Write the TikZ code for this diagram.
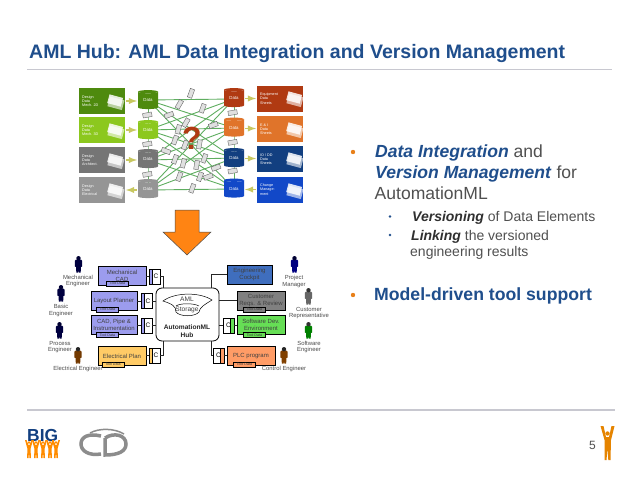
\documentclass[tikz,border=0pt]{standalone}
\usepackage{fontspec}
\setmainfont{Liberation Sans}
\usetikzlibrary{shapes.geometric,calc}
\definecolor{titleblue}{HTML}{1F4E8C}
\definecolor{rulegray}{HTML}{C8C8D0}
\definecolor{bodytxt}{HTML}{505050}
\definecolor{boldtxt}{HTML}{303030}
\definecolor{bullet}{HTML}{E8801A}
\definecolor{link}{HTML}{5FAE60}
\definecolor{lav}{HTML}{9C9CEE}
\definecolor{eplan}{HTML}{FFCB66}
\definecolor{plc}{HTML}{FF9C66}
\definecolor{cock}{HTML}{3F6EBE}
\definecolor{cust}{HTML}{808080}
\definecolor{sw}{HTML}{66DE55}
\definecolor{cgA}{HTML}{4E8A0E}
\definecolor{cgB}{HTML}{8CC81E}
\definecolor{cgC}{HTML}{757575}
\definecolor{cgD}{HTML}{959595}
\definecolor{crA}{HTML}{B03A12}
\definecolor{crB}{HTML}{E0742A}
\definecolor{crC}{HTML}{123F80}
\definecolor{crD}{HTML}{1248C8}
\definecolor{arw}{HTML}{C8C860}
\definecolor{bigarrow}{HTML}{FF8413}
\tikzset{
  fs/.style={font={\fontsize{#1}{#1}\selectfont\setlength\baselineskip{1.15\baselineskip}}},
  tool/.style={draw=black,line width=.7pt,minimum width=48pt,minimum height=19pt,inner sep=0pt,align=center,fs=6,text=black!75},
  tag/.style={draw=black,line width=.5pt,minimum width=22pt,minimum height=5pt,inner sep=0pt,fs=3.6,text=black!80},
  cblk/.style={draw=black,fill=white,line width=.7pt,minimum width=11pt,minimum height=15pt,inner sep=0pt,fs=6.5},
  conn/.style={line width=.8pt,draw=black!85},
  plabel/.style={align=center,fs=5.9,text=black!70,inner sep=0pt},
  srcbox/.style={minimum width=46pt,minimum height=26pt,inner sep=0pt},
  imgtxt/.style={fs=3.7,text=white,align=left,inner sep=0pt,anchor=west},
  cyl/.style={cylinder,shape border rotate=90,aspect=.35,minimum width=20pt,minimum height=19pt,inner sep=0pt,cylinder uses custom fill,cylinder end fill=#1,cylinder body fill=#1,fs=4.4,text=white},
  lnk/.style={draw=black!60,fill=black!12,line width=.4pt,minimum width=9pt,minimum height=4.5pt,inner sep=0pt},
  txt/.style={anchor=base west,inner sep=0pt,fs=#1},
}
\newcommand{\persn}[4]{% x y body-colour head-colour
  \fill[#3] (#1-3.6,#2+4.6) .. controls (#1-3.6,#2+3) and (#1+3.6,#2+3) .. (#1+3.6,#2+4.6)
    -- (#1+3.6,#2+10.5) -- (#1+2.4,#2+11) -- (#1+2.2,#2+16.5) -- (#1+.3,#2+16.5) -- (#1,#2+11) -- (#1-.3,#2+16.5) -- (#1-2.2,#2+16.5) -- (#1-2.4,#2+11) -- (#1-3.6,#2+10.5) -- cycle;
  \fill[#4] (#1,#2+2.2) circle (2.2);
}
\newcommand{\docstack}[2]{% paper icon at x,y
  \fill[white,opacity=.85,rotate around={-15:(#1,#2)}] (#1-7,#2-5) rectangle (#1+7,#2+4);
  \fill[white,opacity=.6,rotate around={-15:(#1,#2)}] (#1-6,#2-3) rectangle (#1+9,#2+7);
}
\begin{document}
\begin{tikzpicture}[x=1pt,y=-1pt]
\useasboundingbox (0,0) rectangle (638,479);
\fill[white] (0,0) rectangle (638,479);
% title
\node[txt=19.5,text=titleblue] (title) at (29,58) {\textbf{AML Hub: AML Data Integration and Version Management}};
\fill[rulegray] (27,68.5) rectangle (612,70);
\fill[rulegray] (27,409) rectangle (615,410.5);
% top image
\node[srcbox,fill=cgA] (s1) at (102,101) {};
\node[srcbox,fill=cgB] (s2) at (102,130) {};
\node[srcbox,fill=cgC] (s3) at (102,160) {};
\node[srcbox,fill=cgD] (s4) at (102,190) {};
\node[srcbox,fill=crA] (t1) at (280,98.5) {};
\node[srcbox,fill=crB] (t2) at (280,129) {};
\node[srcbox,fill=crC] (t3) at (280,159) {};
\node[srcbox,fill=crD] (t4) at (280,189.5) {};
\docstack{115}{101}\docstack{115}{130}\docstack{115}{160}\docstack{115}{190}
\docstack{294}{98}\docstack{294}{129}\docstack{294}{159}\docstack{294}{190}
\node[imgtxt] (st1) at (82,101) {Design\\Data\\Mech. 2D};
\node[imgtxt] (st2) at (82,130) {Design\\Data\\Mech. 3D};
\node[imgtxt] (st3) at (82,160) {Design\\Data\\Architect.};
\node[imgtxt] (st4) at (82,190) {Design\\Data\\Electrical};
\node[imgtxt] (tt1) at (260,98.5) {Equipment\\Data\\Sheets};
\node[imgtxt] (tt2) at (260,129) {E \& I\\Data\\Sheets};
\node[imgtxt] (tt3) at (260,159) {IO / DD\\Data\\Sheets};
\node[imgtxt] (tt4) at (260,189.5) {Change\\Manage-\\ment};
\coordinate (l1) at (148,100);\coordinate (l2) at (148,130);\coordinate (l3) at (148,160);\coordinate (l4) at (148,190);
\coordinate (r1) at (234,99);\coordinate (r2) at (234,128);\coordinate (r3) at (234,158);\coordinate (r4) at (234,189);
\foreach \a in {1,2,3,4}\foreach \b in {1,2,3,4}\draw[link,line width=.9pt] (l\a) -- (r\b);
\draw[link,line width=.9pt] (l1)--(l2)--(l3)--(l4);
\draw[link,line width=.9pt] (r1)--(r2)--(r3)--(r4);
\foreach \zx/\zy/\r in {393/55/70,358/88/60,428/100/70,327/120/20,378/143/60,460/150/20,355/163/75,345/195/70,375/210/70,418/208/80,318/228/-20,433/250/70,345/253/70,370/265/75,410/270/80,468/278/20,358/305/70,420/305/70,445/305/20,397/340/70,262/120/10,262/207/10,262/298/10,518/113/10,518/202/10,518/288/10}
  \node[lnk,rotate=\r] at ({60+\zx/3},{75+\zy/3}) {};
\node[cyl=cgA] (c1) at (148,100.5) {Data};
\node[cyl=cgB] (c2) at (148,130.5) {Data};
\node[cyl=cgC] (c3) at (148,159.5) {Data};
\node[cyl=cgD] (c4) at (148,189.5) {Data};
\node[cyl=crA] (d1) at (234,98.5) {Data};
\node[cyl=crB] (d2) at (234,128) {Data};
\node[cyl=crC] (d3) at (234,158.5) {Data};
\node[cyl=crD] (d4) at (234,189) {Data};
\foreach \y in {101,130,160}\draw[-latex,line width=1.8pt,arw] (126,\y)--(137,\y);
\draw[latex-,line width=1.8pt,arw] (126,190)--(137,190);
\foreach \y in {98.5,128.5,158.5}\draw[-latex,line width=1.8pt,arw] (245,\y)--(256,\y);
\draw[latex-,line width=1.8pt,arw] (245,189.5)--(256,189.5);
\node[fs=32,text=crA,inner sep=0pt] (q) at (192,138.5) {\textbf{?}};
% big arrow
\fill[bigarrow,draw=black!70,line width=.5pt] (175,210) -- (199,210) -- (199,232) -- (211,232) -- (187,255) -- (163,232) -- (175,232) -- cycle;
% hub
\node[draw=black,line width=.8pt,rounded corners=6pt,minimum width=63pt,minimum height=53pt,inner sep=0pt,fill=white] (hub) at (187.5,314.5) {};
% tool boxes
\node[tool,fill=lav] (mech) at (122,275.5) {Mechanical\\CAD};
\node[tool,fill=lav,minimum width=46pt] (lay) at (114,301) {Layout Planner};
\node[tool,fill=lav,minimum width=46pt] (cad) at (114,325) {CAD, Pipe \&\\Instrumentation};
\node[tool,fill=eplan] (ele) at (122,356) {Electrical Plan};
\node[tool,fill=cock,minimum width=45pt] (eng) at (249.5,274.5) {Engineering\\Cockpit};
\node[tool,fill=cust] (cus) at (261,300.5) {Customer\\Reqs. \& Review};
\node[tool,fill=sw] (sof) at (261,325) {Software Dev.\\Environment};
\node[tool,fill=plc] (plcb) at (251,356) {PLC program};
\node[tag,fill=lav] (tg1) at (117.5,283.5) {Tool Data};
\node[tag,fill=lav] (tg2) at (107.5,309.5) {Tool Data};
\node[tag,fill=lav] (tg3) at (107.5,335) {Tool Data};
\node[tag,fill=eplan] (tg4) at (113,364.5) {Tool Data};
\node[tag,fill=cust] (tg5) at (254.5,309.5) {Tool Data};
\node[tag,fill=sw] (tg6) at (254.5,335) {Tool Data};
\node[tag,fill=plc] (tg7) at (244.5,364.5) {Tool Data};
% C blocks
\node[cblk] (cm) at (154.5,276.5) {\hspace{3pt}C};
\node[cblk] (cl) at (146.5,301) {\hspace{3pt}C};
\node[cblk] (cc) at (146.5,325.5) {\hspace{3pt}C};
\node[cblk] (ce) at (154.5,355.5) {\hspace{3pt}C};
\node[cblk] (cs) at (228.5,325.5) {C\hspace{3pt}};
\node[cblk] (cp) at (218.5,355.5) {C\hspace{3pt}};
\fill[lav,draw=black,line width=.7pt] (149,269) rectangle (152.3,284);
\fill[lav,draw=black,line width=.7pt] (141,293.5) rectangle (144.3,308.5);
\fill[lav,draw=black,line width=.7pt] (141,318) rectangle (144.3,333);
\fill[eplan,draw=black,line width=.7pt] (149,348) rectangle (152.3,363);
\fill[sw,draw=black,line width=.7pt] (230.7,318) rectangle (234,333);
\fill[plc,draw=black,line width=.7pt] (220.7,348) rectangle (224,363);
% hub content
\draw[black,line width=.5pt] (163,301) .. controls (175,292) and (200,292) .. (212,300) .. controls (204,305) and (200,307) .. (199,312) .. controls (195,317) and (180,317) .. (176,312) .. controls (176,306) and (172,304) .. (163,301) -- cycle;
\draw[black,line width=.5pt] (176,306) .. controls (180,303) and (194,303) .. (199,306);
\node[fs=6.6,inner sep=0pt,text=black!75] (aml) at (187,299.5) {AML};
\node[fs=6.6,inner sep=0pt,text=black!75] (sto) at (187,309.5) {Storage};
\node[fs=6.6,align=center,inner sep=0pt,text=black!85] (hubt) at (187,331) {\textbf{AutomationML}\\\textbf{Hub}};
\coordinate (hm) at (163,288);\coordinate (he) at (163,341);\coordinate (hc) at (211,288);\coordinate (hp) at (211,341);
\draw[conn] (mech.east|-cm) -- (cm.west);
\draw[conn] (lay.east) -- (cl.west);
\draw[conn] (cad.east|-cc) -- (cc.west);
\draw[conn] (ele.east|-ce) -- (ce.west);
\draw[conn] (cm.east) -| (hm);
\draw[conn] (cl.east) -- (cl.east-|hub.west);
\draw[conn] (cc.east) -- (cc.east-|hub.west);
\draw[conn] (ce.east) -| (he);
\draw[conn] (eng.west) -| (hc);
\draw[conn] (hub.east|-cus) -- (cus.west);
\draw[conn] (hub.east|-cs) -- (cs.west);
\draw[conn] (cs.east) -- (sof.west|-cs);
\draw[conn] (cp.west) -| (hp);
\draw[conn] (cp.east) -- (plcb.west|-cp);
% people
\persn{78.5}{256}{black!75!blue}{black!80!blue}
\persn{61}{285}{black!75!blue}{black!80!blue}
\persn{59.5}{322}{black!75!blue}{black!80!blue}
\persn{78}{347}{black!55!orange}{black!85}
\persn{294.5}{256}{blue!50!black}{black!80!blue}
\persn{308.5}{288}{black!60}{black!80}
\persn{308.5}{322}{green!50!black}{black!80}
\persn{284}{347}{orange!50!black}{black!85}
\node[plabel] (p1) at (78,281) {Mechanical\\Engineer};
\node[plabel] (p2) at (61,310.5) {Basic\\Engineer};
\node[plabel] (p3) at (60,347) {Process\\Engineer};
\node[plabel] (p4) at (78,368.5) {Electrical Engineer};
\node[plabel] (p5) at (294,281.5) {Project\\Manager};
\node[plabel] (p6) at (309,313) {Customer\\Representative};
\node[plabel] (p7) at (309,347) {Software\\Engineer};
\node[plabel] (p8) at (284,368.5) {Control Engineer};
% bullets
\fill[bullet] (353,152) circle (2.2);
\fill[bullet] (353,295) circle (2.2);
\fill[titleblue] (390,216.5) circle (1.4);
\fill[titleblue] (390,235) circle (1.4);
\node[txt=17.55,text=titleblue] (t1a) at (375,157.5) {\textbf{\textit{Data Integration}} {\color{bodytxt}and}};
\node[txt=17.55,text=titleblue] (t1b) at (375,178) {\textbf{\textit{Version Management}} {\color{bodytxt}for}};
\node[txt=17.55,text=bodytxt] (t1c) at (374.5,199.5) {AutomationML};
\node[txt=14,text=boldtxt] (t2a) at (412,221) {\textbf{\textit{Versioning}} {\color{bodytxt}of Data Elements}};
\node[txt=14,text=boldtxt] (t2b) at (411,240) {\textbf{\textit{Linking}} {\color{bodytxt}the versioned}};
\node[txt=14,text=bodytxt] (t2c) at (410,256.5) {engineering results};
\node[txt=17.65,text=titleblue] (t3) at (374,300.5) {\textbf{Model-driven tool support}};
% footer
\node[anchor=base,inner sep=0pt,fs=12,text=bodytxt] (pg) at (592.5,449) {5};
\begin{scope}[shift={(607.5,426)}]
\fill[orange!85!yellow!90!black] (-7,0) -- (-4,0) -- (-1.5,11) -- (1.5,11) -- (4,0) -- (7,0) -- (3.5,14) -- (3,34) -- (0.8,34) -- (0,22) -- (-1,34) -- (-3,34) -- (-3,14) -- cycle;
\fill[orange!85!yellow!90!black] (0,7.5) circle (2.2);
\end{scope}
\node[txt=17.4,text=crC] (big) at (27,441.5) {\textbf{BIG}};
\foreach \x in {29,36,43,50,56}{
\fill[orange!90!yellow] (\x-4,440) -- (\x-2.5,440) -- (\x-.5,445) -- (\x+.5,445) -- (\x+2.5,440) -- (\x+4,440) -- (\x+1.5,449) -- (\x+2,458) -- (\x+.5,458) -- (\x,452) -- (\x-.5,458) -- (\x-2,458) -- (\x-1.5,449) -- cycle;
\fill[orange!90!yellow] (\x,442.5) circle (1.4);
}
\draw[black!45,line width=3.5pt] (101,436) .. controls (88,433) and (81,437) .. (81,444) .. controls (81,451) and (89,456) .. (101,454);
\draw[black!45,line width=3.5pt] (105,438) -- (105,455) .. controls (119,455) and (126,451) .. (126,444) .. controls (126,435) and (114,432) .. (105,438);
\draw[black!45,line width=1.5pt] (90,433) .. controls (99,428) and (114,428) .. (124,434);
\end{tikzpicture}
\end{document}
